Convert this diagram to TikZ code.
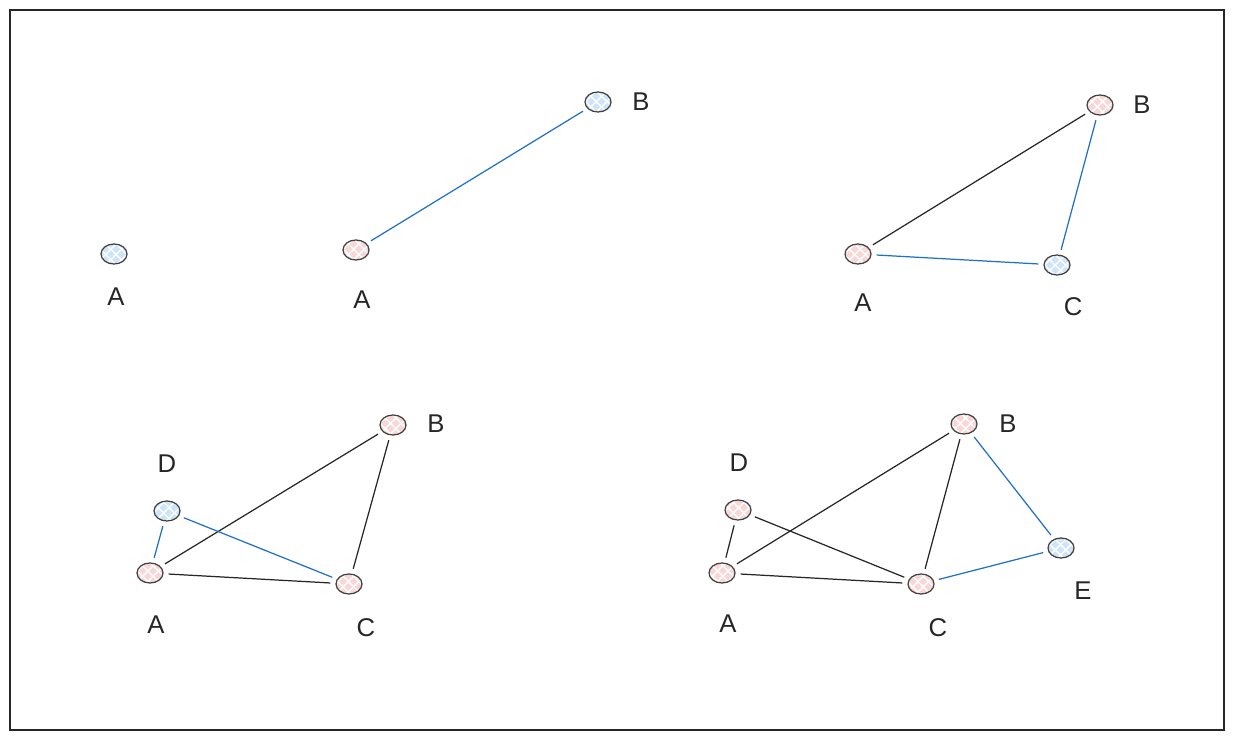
\documentclass[tikz,border=0pt]{standalone}
\usepackage{fontspec}
\setmainfont{Liberation Sans}
\usetikzlibrary{shapes,patterns,positioning}
\definecolor{lineblue}{RGB}{30,112,200}
\definecolor{nodered}{RGB}{250,215,215}
\definecolor{nodeblue}{RGB}{205,228,250}
\tikzset{
  vtx/.style={ellipse, draw=black!75, line width=0.35pt, minimum width=0.26cm, minimum height=0.2cm, inner sep=0pt},
  vred/.style={vtx, preaction={fill=nodered}, pattern=crosshatch, pattern color=white},
  vblue/.style={vtx, preaction={fill=nodeblue}, pattern=crosshatch, pattern color=white},
  lbl/.style={font=\fontsize{7.3}{8}\selectfont, text=black!85},
  eblk/.style={draw=black!85, line width=0.35pt, shorten <=0.05cm, shorten >=0.05cm},
  eblu/.style={draw=lineblue, line width=0.35pt, shorten <=0.05cm, shorten >=0.05cm}
}
\begin{document}
\begin{tikzpicture}[x=0.01cm, y=-0.01cm]
            \useasboundingbox (0,0) rectangle (1234,740);
            \draw[line width=0.45pt, draw=black!85] (10,10) rectangle (1224,730);

            % single vertex
            \node[vblue] (a1) at (114,254) {};
            \node[lbl] at (116,297) {A};

            % two vertices
            \node[vred] (a2) at (356,250) {};
            \node[vblue] (b2) at (598,102) {};
            \node[lbl] at (362,300) {A};
            \node[lbl] at (641,102) {B};
            \draw[eblu] (a2) -- (b2);

            % three vertices
            \node[vred] (a3) at (858,254) {};
            \node[vred] (b3) at (1100,105) {};
            \node[vblue] (c3) at (1057,265) {};
            \node[lbl] at (863,303) {A};
            \node[lbl] at (1142,105) {B};
            \node[lbl] at (1073,307) {C};
            \draw[eblk] (a3) -- (b3);
            \draw[eblu] (a3) -- (c3);
            \draw[eblu] (b3) -- (c3);

            % four vertices
            \node[vred] (a4) at (150,573) {};
            \node[vred] (b4) at (393,425) {};
            \node[vred] (c4) at (349,584) {};
            \node[vblue] (d4) at (167,511) {};
            \node[lbl] at (156,625) {A};
            \node[lbl] at (436,424) {B};
            \node[lbl] at (366,628) {C};
            \node[lbl] at (167,464) {D};
            \draw[eblk] (a4) -- (b4);
            \draw[eblk] (b4) -- (c4);
            \draw[eblk] (a4) -- (c4);
            \draw[eblu] (d4) -- (a4);
            \draw[eblu] (d4) -- (c4);

            % five vertices
            \node[vred] (a5) at (722,573) {};
            \node[vred] (b5) at (964,424) {};
            \node[vred] (c5) at (921,584) {};
            \node[vred] (d5) at (738,510) {};
            \node[vblue] (e5) at (1061,548) {};
            \node[lbl] at (728,624) {A};
            \node[lbl] at (1008,424) {B};
            \node[lbl] at (938,628) {C};
            \node[lbl] at (739,463) {D};
            \node[lbl] at (1083,591) {E};
            \draw[eblk] (d5) -- (a5);
            \draw[eblk] (d5) -- (c5);
            \draw[eblk] (a5) -- (b5);
            \draw[eblk] (a5) -- (c5);
            \draw[eblk] (b5) -- (c5);
            \draw[eblu] (b5) -- (e5);
            \draw[eblu] (c5) -- (e5);
        \end{tikzpicture}
\end{document}
